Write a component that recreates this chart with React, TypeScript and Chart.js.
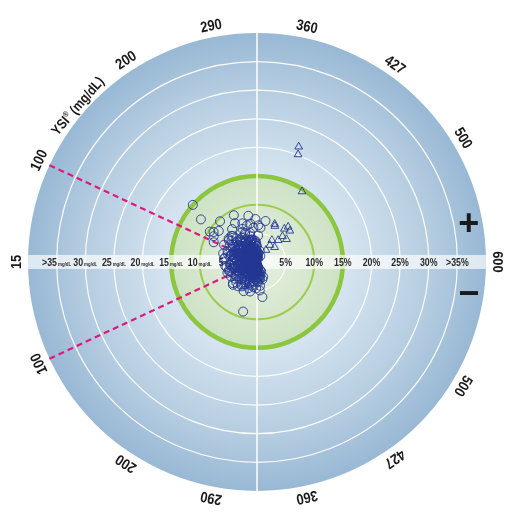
import { useEffect, useRef } from 'react'
import { Chart, registerables, type Plugin, type ChartConfiguration } from 'chart.js'
Chart.register(...registerables)

// YSI reference glucose (mg/dL) and bias (mg/dL below 100 mg/dL, % from 100 mg/dL up)
const circleGlucose = [
  22, 28, 31, 35, 38, 40, 42, 44, 46, 48, 50, 52, 54, 55, 57, 58, 60, 62, 63, 65, 66, 68, 70, 71, 72,
  74, 75, 77, 78, 80, 81, 83, 84, 86, 87, 88, 90, 91, 93, 95, 36, 47, 59, 69, 79,
  100, 102, 104, 106, 108, 110, 111, 113, 115, 117, 119, 121, 123, 125, 127, 129, 131, 133, 135, 137,
  139, 141, 143, 145, 147, 149, 151, 153, 155, 157, 159, 161, 163, 165, 167, 169, 171, 173, 175, 177,
  179, 181, 183, 185, 187, 189, 191, 193, 195, 197, 199, 112, 126, 138, 152, 164, 178, 192, 105, 134,
  205, 208, 212, 215, 218, 221, 224, 227, 230, 233, 236, 239, 242, 245, 248, 251, 254, 257, 260, 263,
  266, 269, 272, 275, 278, 281, 284, 287, 290, 293, 296, 299, 302, 305, 308, 311, 314, 317, 320, 323,
  326, 329, 210, 240, 258, 276, 298, 312, 330, 222,
  335, 342, 348, 355, 362, 372, 385,
  152, 138, 171, 227, 291, 317, 359, 341, 214, 187, 144, 124, 98, 293, 144, 244, 331,
  83, 161, 210, 281, 350, 271, 325, 390, 141,
  108, 122, 132, 146, 156, 168, 174, 190, 118, 130, 216, 250, 280,
  25, 30, 34, 39, 43, 49, 53, 61, 67, 73, 76, 82, 85, 89, 94, 97, 26, 32, 37, 41,
  103, 114, 128, 140, 150, 158, 170, 184, 198, 206, 220, 235, 250, 262, 285, 300, 318,
  45, 56, 64, 73, 82, 92, 101, 109, 118, 132, 144, 156, 172, 186, 203, 219, 237, 253, 268, 283,
  297, 313, 328, 338, 345,
  101, 107, 113, 119, 124, 131, 137, 143, 149, 154, 160, 166, 173, 179, 185, 191, 198, 204, 211, 217,
  223, 229, 236, 243, 249, 256, 262, 269, 275, 282, 289, 295, 303, 309, 316, 322,
  21, 24, 27, 29, 33, 37, 41, 45, 49, 51, 53, 56, 59, 61, 64, 67, 69, 72, 75, 78, 81, 84, 87, 90, 93, 96,
  104, 110, 117, 124, 131, 139, 147, 154, 162, 169, 177, 184, 192, 200, 209, 218, 226, 234, 243, 252,
  261, 270, 279, 288, 297, 306, 315, 324, 333, 341, 349, 357,
  106, 115, 127, 141, 153, 167, 181, 195, 208, 225, 241, 259, 274, 291, 306, 321,
  205, 238, 272, 305, 330, 185,
  332, 340, 352, 365, 378, 395, 410, 365,
  335, 345, 360, 375, 340,
]
const circleBias = [
  1.2, -2.0, 3.5, -0.8, 2.6, -3.4, 5.6, 0.4, -1.6, 4.0, -5.4, 1.8, -0.6, 3.0, -2.8, 0.9, -4.2, 2.2, 6.1, -1.2, 1.4, -3.6, 0.2, 4.6, -2.4,
  1.0, -0.3, 2.9, -5.0, 0.7, -1.9, 3.8, -0.9, 1.6, -3.1, 2.4, 0.5, -2.2, 4.4, -1.4, -4.6, 2.0, -0.5, 3.3, -2.6,
  1.5, -2.4, 3.2, 0.6, -1.1, 4.8, -3.6, 2.0, -0.4, 1.2, -2.8, 5.6, 0.9, -1.7, 2.6, -4.4, 3.9, -0.8, 1.7, -2.1,
  6.2, 0.3, -3.2, 2.3, -1.3, 4.1, -5.6, 1.1, -0.6, 3.4, -2.5, 0.8, 5.0, -1.9, 2.1, -3.9, 1.4, -0.2, 3.7, -2.7,
  0.5, -1.5, 4.5, -3.3, 2.7, -0.7, 1.9, -4.8, 3.1, -1.0, 0.4, 2.9, -2.0, 1.0, -3.0, 6.4, -1.6, 2.5, -0.3, 5.2,
  1.8, -2.6, 3.4, -0.9, 0.7, -3.8, 2.5, -1.4, 4.4, -2.0, 1.1, -0.5, 3.0, -3.2, 1.6, -1.8, 2.2, -4.2, 0.6, -2.4,
  3.8, -1.0, 1.3, -2.9, 2.6, -0.6, 4.0, -3.5, 0.9, -1.6, 2.0, -2.3, 3.3, -0.8, 1.5, -3.0, 2.8, -1.2, 0.5, -2.1,
  1.9, -0.4, -4.6, 5.2, -3.6, 4.6, -4.4, 3.6, -2.7, 0.3,
  -1.8, -2.4, 1.0, -3.0, -1.2, -2.2, -1.5,
  15.0, 12.3, 9.6, 9.1, 8.2, 7.5, 7.3, 6.0, 7.8, 7.2, 8.6, 9.8, 8.3, 6.8, 6.4, 5.5, 4.6,
  -5.5, -5.1, -4.1, -5.3, -6.2, -9.0, -3.4, -2.8, -4.1,
  6.5, 5.0, 4.6, 5.8, 4.4, 6.2, 5.5, 4.9, 8.8, 9.2, 5.8, 7.2, 5.2,
  4.5, -4.8, 5.8, -5.6, 3.9, -3.8, 4.9, -4.4, 5.3, -5.2, 4.2, -3.3, 5.5, -4.8, 3.6, -3.7, -0.4, 0.9, -1.3, 1.5,
  -4.6, -5.2, -3.6, -4.8, -3.4, -5.8, -4.1, -5.4, -3.8, -5.0, -4.4, -5.6, -3.9, -4.8, -4.2, -3.5, -4.6,
  1.0, -1.4, 0.8, -0.7, 1.9, -1.1, 0.7, -0.9, 1.6, -1.5, 0.5, 2.1, -0.9, 1.2, -1.3, 2.3, -2.2, 1.1, -1.9, 1.7,
  -1.1, 0.8, -1.5, 1.4, -2.9,
  3.6, 2.4, 4.2, 3.0, 2.2, 3.8, 2.7, 4.4, 3.3, 2.5, 4.0, 2.9, 3.5, 2.3, 4.3, 3.1, 2.6, 3.9, 2.8, 4.1,
  3.2, 2.4, 3.7, 2.9, 4.2, 3.4, 2.5, 3.6, 2.7, 4.0, 3.0, 2.6, 3.8, 2.2, 3.3, 2.8,
  -2.4, 3.1, 1.8, -3.9, 4.2, -1.9, 3.0, -4.4, 2.3, -2.9, 3.9, -3.2, 1.6, 4.7, -1.8, 2.6, -4.0, 3.4, -2.0, 1.3, 4.1, -2.7, 3.0, -1.6, 2.0, -2.5,
  -2.9, -1.8, -2.5, -1.2, -2.2, -0.9, -2.7, -1.6, -2.1, -0.6, -1.4, -2.4, -1.9, -0.8, -2.6, -1.5, -1.0, -2.0, -0.7, -2.8,
  -1.3, -2.3, -0.9, -1.7, -2.5, -1.1, -2.0, -0.6, -1.6, -2.2, -1.0, -1.9,
  0.6, 1.3, 0.4, 1.8, 0.9, 1.5, 0.3, 1.7, 0.8, 1.4, 0.5, 1.9, 1.0, 0.4, 1.6, 1.2,
  5.0, 6.3, 6.6, 6.0, 6.4, 4.8,
  0.8, -0.6, 1.5, -1.0, 0.7, -1.8, 1.2, 2.0,
  -3.5, -4.2, -2.5, -3.2, -5.0,
]
const triangleGlucose = [383, 386, 420, 398, 441, 447, 462, 457, 455, 480, 434, 433, 473, 425, 402]
const triangleBias = [21.4, 20.1, 14.6, 7.3, 7.5, 8.2, 7.9, 6.3, 5.3, 6.5, 3.7, 2.6, 4.0, 4.6, 7.0]

// angular axis: YSI glucose tick -> angle in degrees (180 = left, 0 = right)
const glucoseTicks = [15, 100, 200, 290, 360, 427, 500, 600]
const tickAngles = [180, 155, 123, 101, 78, 55, 31, 0]
const lowerTicks = [100, 200, 290, 360, 427, 500]

// radial axis
const rings = [5, 10, 15, 20, 25, 30, 35]
const outerLimit = 40
const pctLabels = ['5%', '10%', '15%', '20%', '25%', '30%', '>35%']
const mgLabels = ['5', '10', '15', '20', '25', '30', '>35']

const angleOf = (g: number) => {
  if (g <= glucoseTicks[0]) return tickAngles[0]
  for (let i = 1; i < glucoseTicks.length; i++) {
    if (g <= glucoseTicks[i]) {
      const t = (g - glucoseTicks[i - 1]) / (glucoseTicks[i] - glucoseTicks[i - 1])
      return tickAngles[i - 1] + t * (tickAngles[i] - tickAngles[i - 1])
    }
  }
  return 0
}
const toXY = (g: number, b: number) => {
  const a = (angleOf(g) * Math.PI) / 180
  const r = Math.abs(b)
  return { x: r * Math.cos(a), y: Math.sign(b) * r * Math.sin(a) }
}

const FONT = '"Liberation Sans", Arial, sans-serif'
const NARROW = 0.8

const polarBackground: Plugin<'scatter'> = {
  id: 'polarBackground',
  beforeDatasetsDraw(chart) {
    const { ctx, scales } = chart
    const cx = scales.x.getPixelForValue(0)
    const cy = scales.y.getPixelForValue(0)
    const u = scales.x.getPixelForValue(1) - cx
    const R = outerLimit * u
    ctx.save()

    // condensed text: squeeze horizontally
    const narrowText = (text: string, x: number, y: number) => {
      ctx.save()
      ctx.translate(x, y)
      ctx.scale(NARROW, 1)
      ctx.fillText(text, 0, 0)
      ctx.restore()
    }
    const narrowWidth = (text: string) => ctx.measureText(text).width * NARROW

    // blue disc
    const blue = ctx.createRadialGradient(cx, cy, 0, cx, cy, R)
    blue.addColorStop(0, '#eaf2f8')
    blue.addColorStop(0.4, '#d4e3ef')
    blue.addColorStop(0.75, '#b6cde1')
    blue.addColorStop(1, '#98b8d4')
    ctx.beginPath()
    ctx.arc(cx, cy, R, 0, Math.PI * 2)
    ctx.fillStyle = blue
    ctx.fill()

    // green acceptance zone
    const green = ctx.createRadialGradient(cx, cy, 0, cx, cy, 15 * u)
    green.addColorStop(0, '#e6f0df')
    green.addColorStop(1, '#cde2c4')
    ctx.beginPath()
    ctx.arc(cx, cy, 15 * u, 0, Math.PI * 2)
    ctx.fillStyle = green
    ctx.fill()

    // rings
    rings.forEach(v => {
      ctx.beginPath()
      ctx.arc(cx, cy, v * u, 0, Math.PI * 2)
      if (v === 15) { ctx.strokeStyle = '#8cc63f'; ctx.lineWidth = 4.5 }
      else if (v === 10) { ctx.strokeStyle = '#9ccb4e'; ctx.lineWidth = 2 }
      else { ctx.strokeStyle = 'rgba(255,255,255,0.95)'; ctx.lineWidth = 1.2 }
      ctx.stroke()
    })

    // vertical divider
    ctx.beginPath()
    ctx.moveTo(cx, cy - R)
    ctx.lineTo(cx, cy + R)
    ctx.strokeStyle = 'rgba(255,255,245,0.95)'
    ctx.lineWidth = 1.6
    ctx.stroke()

    // horizontal band
    ctx.save()
    ctx.beginPath()
    ctx.arc(cx, cy, R, 0, Math.PI * 2)
    ctx.clip()
    ctx.fillStyle = 'rgba(255,255,255,0.68)'
    ctx.fillRect(cx - R, cy - 7, 2 * R, 14)
    ctx.restore()

    // band labels
    ctx.fillStyle = '#2a2a2a'
    ctx.textBaseline = 'alphabetic'
    ctx.textAlign = 'left'
    const base = cy + 4
    rings.forEach((v, i) => {
      ctx.font = `bold 11px ${FONT}`
      const w = narrowWidth(pctLabels[i])
      narrowText(pctLabels[i], cx + v * u - w / 2, base)
      const n = mgLabels[i]
      const wn = narrowWidth(n)
      ctx.font = `bold 5.5px ${FONT}`
      const wu = narrowWidth('mg/dL')
      const x0 = cx - v * u - (wn + 1 + wu) / 2
      ctx.font = `bold 11px ${FONT}`
      narrowText(n, x0, base)
      ctx.font = `bold 5.5px ${FONT}`
      narrowText('mg/dL', x0 + wn + 1, base)
    })

    // dashed 100 mg/dL boundaries
    ctx.strokeStyle = '#e0177f'
    ctx.lineWidth = 2.2
    ctx.setLineDash([6, 4])
    ;[1, -1].forEach(s => {
      const a = (s * angleOf(100) * Math.PI) / 180
      ctx.beginPath()
      ctx.moveTo(cx + R * Math.cos(a), cy - R * Math.sin(a))
      ctx.lineTo(cx + 4 * u * Math.cos(a), cy - 4 * u * Math.sin(a))
      ctx.stroke()
    })
    ctx.setLineDash([])

    // outer glucose labels
    const arcFrame = (deg: number, r: number) => {
      const a = (deg * Math.PI) / 180
      ctx.translate(cx + r * Math.cos(a), cy - r * Math.sin(a))
      ctx.rotate(((90 - deg) * Math.PI) / 180)
      ctx.scale(0.86, 1)
    }
    const arcText = (text: string, deg: number, r: number) => {
      ctx.save()
      arcFrame(deg, r)
      ctx.fillText(text, 0, 0)
      ctx.restore()
    }
    ctx.fillStyle = '#1a1a1a'
    ctx.textAlign = 'center'
    ctx.textBaseline = 'middle'
    ctx.font = `bold 15px ${FONT}`
    const rl = R + 11
    glucoseTicks.forEach((g, i) => arcText(String(g), tickAngles[i], rl))
    lowerTicks.forEach(g => arcText(String(g), -angleOf(g), rl))

    // axis title with superscript ®
    ctx.save()
    arcFrame(139, R + 8)
    ctx.textAlign = 'left'
    ctx.font = `bold 14px ${FONT}`
    const wA = ctx.measureText('YSI').width
    const wC = ctx.measureText(' (mg/dL)').width
    ctx.font = `bold 8px ${FONT}`
    const wB = ctx.measureText('\u00ae').width
    const x0 = -(wA + wB + wC) / 2
    ctx.font = `bold 14px ${FONT}`
    ctx.fillText('YSI', x0, 0)
    ctx.fillText(' (mg/dL)', x0 + wA + wB, 0)
    ctx.font = `bold 8px ${FONT}`
    ctx.fillText('\u00ae', x0 + wA, -4)
    ctx.restore()

    // bias direction signs
    ctx.textAlign = 'center'
    ctx.font = `bold 36px ${FONT}`
    ctx.fillText('+', cx + R * 0.925, cy - R * 0.16)
    ctx.fillText('\u2212', cx + R * 0.925, cy + R * 0.145)

    ctx.restore()
  },
}

export default function App() {
  const ref = useRef<HTMLCanvasElement>(null)
  const chartRef = useRef<Chart | null>(null)
  useEffect(() => {
    if (!ref.current) return
    chartRef.current?.destroy()
    const unitPx = 5.85
    const cxPx = 257
    const cyPx = 262
    const config: ChartConfiguration<'scatter'> = {
      type: 'scatter',
      data: {
        datasets: [
          {
            data: circleGlucose.map((g, i) => toXY(g, circleBias[i])),
            pointStyle: 'circle',
            pointRadius: 4.5,
            borderWidth: 1,
            borderColor: 'rgba(36,54,146,0.9)',
            backgroundColor: 'rgba(0,0,0,0)',
          },
          {
            data: triangleGlucose.map((g, i) => toXY(g, triangleBias[i])),
            pointStyle: 'triangle',
            pointRadius: 4.5,
            borderWidth: 1,
            borderColor: 'rgba(36,54,146,0.9)',
            backgroundColor: 'rgba(0,0,0,0)',
          },
        ],
      },
      options: {
        animation: false,
        responsive: true,
        maintainAspectRatio: false,
        layout: { padding: 0 },
        plugins: { legend: { display: false }, tooltip: { enabled: false } },
        scales: {
          x: { type: 'linear', display: false, min: -cxPx / unitPx, max: (515 - cxPx) / unitPx },
          y: { type: 'linear', display: false, min: -(519 - cyPx) / unitPx, max: cyPx / unitPx },
        },
      },
      plugins: [polarBackground],
    }
    chartRef.current = new Chart(ref.current, config)
    return () => chartRef.current?.destroy()
  }, [])
  return (
    <div style={{ position: 'fixed', left: 0, top: 0, width: 515, height: 519, background: '#fff' }}>
      <canvas ref={ref} />
    </div>
  )
}
